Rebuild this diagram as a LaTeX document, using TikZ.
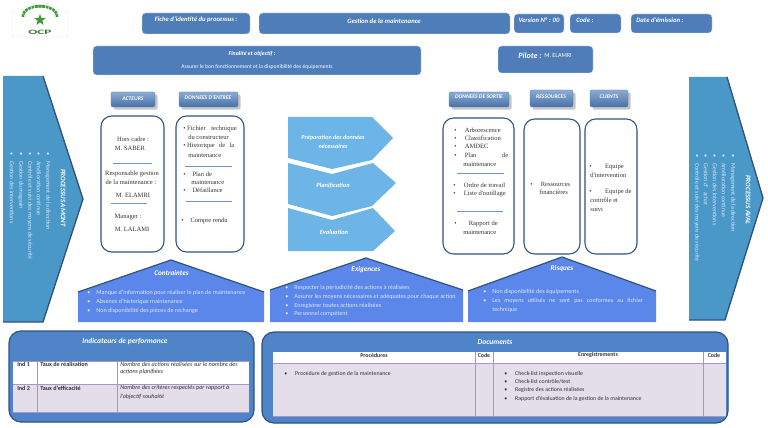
\documentclass[tikz,border=0pt]{standalone}
\usepackage{fontspec}
\setmainfont{Carlito}
\newfontfamily\serifb{Liberation Serif}
\usetikzlibrary{shadows,shapes.geometric}
\definecolor{topblue}{HTML}{4F7DBA}
\definecolor{houseblue}{HTML}{5C87EA}
\definecolor{darkedge}{HTML}{2F5280}
\definecolor{chev}{HTML}{4A98C8}
\definecolor{proc}{HTML}{6DB5E6}
\definecolor{frameblue}{HTML}{4F85C8}
\definecolor{lilac}{HTML}{E3DEEA}
\definecolor{tline}{HTML}{A894C8}
\definecolor{sepblue}{HTML}{6A96CE}
\definecolor{pale}{HTML}{DCE6F6}
\definecolor{ocpgreen}{HTML}{3E9A3A}
\tikzset{
 x=0.75pt,y=-0.75pt,
 topbox/.style={fill=topblue,draw=pale,line width=0.3pt,rounded corners=2.5pt},
 hdr/.style={rounded corners=1.5pt,top color=topblue!65!white,bottom color=topblue!90!black,draw=topblue,line width=0.3pt,drop shadow={shadow xshift=2pt,shadow yshift=-2pt,fill=black!45}},
 card/.style={draw=darkedge,line width=0.8pt,fill=white,rounded corners=8pt},
 housebox/.style={fill=houseblue,draw=none},
 houseedge/.style={draw=darkedge,line width=0.9pt},
 sepline/.style={draw=sepblue,line width=0.7pt},
 chevbox/.style={fill=chev},
 procbox/.style={fill=proc},
 frame/.style={fill=frameblue,draw=darkedge,line width=0.9pt,rounded corners=9pt},
 tabline/.style={draw=tline,line width=0.4pt},
 wt/.style={text=white,inner sep=0pt,font=\fontsize{4.6}{5}\selectfont},
 wtb/.style={text=white,inner sep=0pt,font=\fontsize{5}{6}\selectfont\bfseries\itshape},
 ser/.style={inner sep=0pt,text=black!80,font=\serifb\fontsize{4.9}{5}\selectfont},
 serl/.style={ser,anchor=west},
 sl/.style={inner sep=0pt,anchor=west,text=black!80,font=\fontsize{4.4}{5}\selectfont},
 wl/.style={wt,anchor=west,text=pale},
 rotl/.style={wt,anchor=west,rotate=-90,text=pale,font=\fontsize{4.5}{5}\selectfont},
}
\begin{document}
\begin{tikzpicture}
\useasboundingbox (0,0) rectangle (768,428);
% logo
\draw[draw=black!10,fill=white,rounded corners=2pt,line width=0.3pt] (12,10) rectangle (68,37);
\draw[ocpgreen,line width=2pt,dash pattern=on 2pt off 0.6pt] (23,17) arc[start angle=175,end angle=285,x radius=17,y radius=10];
\draw[ocpgreen,line width=2pt,dash pattern=on 2pt off 0.6pt] (57,17) arc[start angle=5,end angle=-105,x radius=17,y radius=10];
\node[star,star points=5,star point ratio=2.4,fill=ocpgreen,inner sep=0pt,minimum size=9pt] (logostar) at (40,20) {};
\node[inner sep=0pt,text=ocpgreen!80!black,font=\fontsize{5}{5}\selectfont\bfseries,xscale=2] (logotext) at (40,32.5) {OCP};
% top row
\draw[topbox] (142,13) rectangle (250,34);
\draw[topbox] (259,13) rectangle (510,34);
\draw[topbox] (514,14) rectangle (564,33);
\draw[topbox] (570,14) rectangle (621,33);
\draw[topbox] (631,14) rectangle (712,33);
\draw[topbox] (93,46) rectangle (421,75);
\draw[topbox] (498,46) rectangle (593,73);
\node[wtb] (fiche) at (196,20) {Fiche d'identité du processus :};
\node[wtb] (gestion) at (384,21) {Gestion de la maintenance};
\node[wtb] (version) at (539,20) {Version N° : 00};
\node[wtb,anchor=west] (code) at (576,20) {Code :};
\node[wtb,anchor=west] (date) at (636,20) {Date d'émission :};
\node[wtb,font=\fontsize{4.4}{5}\selectfont\bfseries\itshape] (finalite) at (252,54) {Finalité et objectif :};
\node[wt,font=\fontsize{4.2}{5}\selectfont] (assurer) at (257,67) {Assurer le bon fonctionnement et la disponibilité des équipements};
\node[wtb,font=\fontsize{6}{6}\selectfont\bfseries\itshape] (pilote) at (530,56) {Pilote :};
\node[wt,anchor=west,font=\fontsize{4.6}{5}\selectfont] (pilotenm) at (544,56) {M. ELAMRI};
% side chevrons
\fill[chevbox] (3,76) -- (43,76) -- (83,199) -- (43,322) -- (3,322) -- cycle;
\draw[darkedge,line width=1pt] (43,76) -- (83,199) -- (43,322) -- (3,322);
\fill[chevbox] (689,77) -- (727,77) -- (763,198) -- (725,320) -- (689,320) -- cycle;
\draw[darkedge,line width=1pt] (727,77) -- (763,198) -- (725,320) -- (689,320);
\node[rotl,anchor=center,font=\fontsize{5.2}{6}\selectfont\itshape\bfseries,text=white] (amont) at (63,198) {PROCESSUS AMONT};
\node[rotl] (a1) at (48,152) {\textbullet\hspace{3.5pt} Management de la direction};
\node[rotl] (a2) at (39,152) {\textbullet\hspace{3.5pt} Amélioration continue};
\node[rotl] (a3) at (30,152) {\textbullet\hspace{3.5pt} Contrôle et suivi des moyens de sécurité};
\node[rotl] (a4) at (21,152) {\textbullet\hspace{3.5pt} Gestion du magasin};
\node[rotl] (a5) at (12,152) {\textbullet\hspace{3.5pt} Gestion des interventions};
\node[rotl,anchor=center,font=\fontsize{5.2}{6}\selectfont\itshape\bfseries,text=white] (aval) at (748,200) {PROCESSUS AVAL};
\node[rotl] (b1) at (733,154) {\textbullet\hspace{3.5pt} Management de la direction};
\node[rotl] (b2) at (724,154) {\textbullet\hspace{3.5pt} Amélioration continue};
\node[rotl] (b3) at (715,154) {\textbullet\hspace{3.5pt} Gestion des interventions};
\node[rotl] (b4) at (706,154) {\textbullet\hspace{3.5pt} Gestion d'\hspace{2pt} achat};
\node[rotl] (b5) at (697,154) {\textbullet\hspace{3.5pt} Contrôle et suivi des moyens de sécurité};
% headers
\draw[hdr] (111,92) rectangle (155,107);
\draw[hdr] (179,92) rectangle (238,107);
\draw[hdr] (449,92) rectangle (509,107);
\draw[hdr] (530,90) rectangle (573,107);
\draw[hdr] (590,90) rectangle (628,107);
\node[wtb,font=\fontsize{4.2}{5}\selectfont\bfseries\itshape] (hA) at (133,99) {ACTEURS};
\node[wtb,font=\fontsize{4.2}{5}\selectfont\bfseries\itshape] (hB) at (208,98) {DONNEES D'ENTREE};
\node[wtb,font=\fontsize{4.2}{5}\selectfont\bfseries\itshape] (hC) at (479,97) {DONNEES DE SORTIE};
\node[wtb,font=\fontsize{4.2}{5}\selectfont\bfseries\itshape] (hD) at (551,97) {RESSOURCES};
\node[wtb,font=\fontsize{4.2}{5}\selectfont\bfseries\itshape] (hE) at (609,97) {CLIENTS};
% cards
\draw[card] (101,116) rectangle (164,252);
\draw[card] (176,116) rectangle (244,252);
\draw[card] (443,118) rectangle (514,254);
\draw[card] (524,119) rectangle (580,254);
\draw[card] (585,119) rectangle (637,254);
\node[ser] (c1) at (133,139) {Hors cadre :};
\node[ser] (c2) at (130,148) {M. SABER};
\draw[sepline] (113,163) -- (152,163);
\node[ser] (c3) at (132,174) {Responsable gestion};
\node[ser] (c4) at (131,182) {de la maintenance :};
\node[ser] (c5) at (133,195) {M. ELAMRI};
\draw[sepline] (111,203) -- (147,203);
\node[ser] (c6) at (128,217) {Manager :};
\node[ser] (c7) at (132,229) {M. LALAMI};
\node[serl] (d1) at (183,129) {\textbullet\ Fichier\hspace{3pt} technique};
\node[serl] (d2) at (188,137) {du constructeur};
\node[serl] (d3) at (183,146) {\textbullet\ Historique\hspace{2pt} de\hspace{2pt} la};
\node[serl] (d4) at (188,155) {maintenance};
\draw[sepline] (185,166) -- (232,166);
\node[serl] (d5) at (183,174) {\textbullet\hspace{4pt} Plan de};
\node[serl] (d6) at (191,182) {maintenance};
\node[serl] (d7) at (183,190) {\textbullet\hspace{4pt} Défaillance};
\draw[sepline] (186,201) -- (232,201);
\node[serl] (d8) at (181,221) {\textbullet\hspace{4pt} Compte rendu};
\node[serl] (e1) at (454,130) {\textbullet\hspace{5pt} Arborescence};
\node[serl] (e2) at (454,138) {\textbullet\hspace{5pt} Classification};
\node[serl] (e3) at (454,146) {\textbullet\hspace{5pt} AMDEC};
\node[serl] (e4) at (454,155) {\textbullet\hspace{5pt} Plan\hspace{18pt} de};
\node[serl] (e5) at (463,164) {maintenance};
\draw[sepline] (457,173) -- (504,173);
\node[serl] (e6) at (453,185) {\textbullet\hspace{5pt} Ordre de travail};
\node[serl] (e7) at (453,194) {\textbullet\hspace{5pt} Liste d'outillage};
\draw[sepline] (457,211) -- (503,211);
\node[serl] (e8) at (454,224) {\textbullet\hspace{8pt} Rapport de};
\node[serl] (e9) at (463,232) {maintenance};
\node[serl] (f1) at (530,184) {\textbullet\hspace{5pt} Ressources};
\node[serl] (f2) at (539,192) {financières};
\node[serl] (g1) at (589,167) {\textbullet\hspace{9pt} Equipe};
\node[serl] (g2) at (590,175) {d'intervention};
\node[serl] (g3) at (589,192) {\textbullet\hspace{9pt} Equipe de};
\node[serl] (g4) at (590,200) {contrôle et};
\node[serl] (g5) at (590,209) {suivi};
% central process arrows
\fill[procbox] (288,117) -- (372,117) -- (393,138) -- (372,160) -- (332,169) -- (288,158) -- cycle;
\fill[procbox] (288,163) -- (332,174) -- (373,163) -- (396,183) -- (372,206) -- (332,216) -- (288,204) -- cycle;
\fill[procbox] (288,208) -- (332,220) -- (373,208) -- (395,231) -- (373,251) -- (288,251) -- cycle;
\node[wtb,align=center,font=\fontsize{4.6}{7}\selectfont\bfseries\itshape] (p1) at (333,142) {Préparation des données\\nécessaires};
\node[wtb,font=\fontsize{4.8}{6}\selectfont\bfseries\itshape] (p2) at (333,186) {Planification};
\node[wtb,font=\fontsize{4.8}{6}\selectfont\bfseries\itshape] (p3) at (334,232) {Evaluation};
% houses
\fill[housebox] (78,292) -- (171,260) -- (264,292) -- (264,322) -- (78,322) -- cycle;
\draw[houseedge] (78,292) -- (171,260) -- (264,292);
\fill[housebox] (270,290) -- (366,258) -- (463,290) -- (463,322) -- (270,322) -- cycle;
\draw[houseedge] (270,290) -- (366,258) -- (463,290);
\fill[housebox] (468,291) -- (562,257) -- (656,291) -- (656,322) -- (468,322) -- cycle;
\draw[houseedge] (468,291) -- (562,257) -- (656,291);
\node[wtb,font=\fontsize{5.4}{6}\selectfont\bfseries\itshape] (hh1) at (171.5,273) {Contraintes};
\node[wtb,font=\fontsize{5.4}{6}\selectfont\bfseries\itshape] (hh2) at (366,270) {Exigences};
\node[wtb,font=\fontsize{5.4}{6}\selectfont\bfseries\itshape] (hh3) at (562,269) {Risques};
\node[wl] (k1) at (87,293) {\textbullet\hspace{3.5pt} Manque d'information pour réaliser le plan de maintenance};
\node[wl] (k2) at (87,302) {\textbullet\hspace{3.5pt} Absence d'historique maintenance};
\node[wl] (k3) at (87,311) {\textbullet\hspace{3.5pt} Non disponibilité des pièces de rechange};
\node[wl] (l1) at (285,288) {\textbullet\hspace{3.5pt} Respecter la périodicité des actions à réalisées};
\node[wl] (l2) at (285,297) {\textbullet\hspace{3.5pt} Assurer les moyens nécessaires et adéquates pour chaque action};
\node[wl] (l3) at (285,306) {\textbullet\hspace{3.5pt} Enregistrer toutes actions réalisées};
\node[wl] (l4) at (285,314) {\textbullet\hspace{3.5pt} Personnel compétent};
\node[wl] (m1) at (483,292) {\textbullet\hspace{3.5pt} Non disponibilité des équipements};
\node[wl] (m2) at (483,301) {\textbullet\hspace{3.5pt} \makebox[113pt][s]{Les moyens utilisés ne sont pas conformes au fichier}};
\node[wl] (m3) at (492,310) {technique};
% indicators frame
\draw[frame] (9,331) rectangle (254,422);
\fill[white] (13,361) rectangle (249,384);
\fill[lilac] (13,384) rectangle (249,412);
\draw[tabline] (13,361) -- (249,361) (13,384) -- (249,384) (13,412) -- (249,412) (37,361) -- (37,412) (117,361) -- (117,412);
\node[wtb,font=\fontsize{5.6}{6}\selectfont\bfseries\itshape] (ind) at (125,341) {Indicateurs de performance};
\node[sl,font=\fontsize{4.6}{5}\selectfont\bfseries] (i1) at (17,364) {Ind 1};
\node[sl,font=\fontsize{4.6}{5}\selectfont\bfseries] (i2) at (40,364) {Taux de réalisation};
\node[sl,font=\fontsize{4.6}{5}\selectfont\itshape] (i3) at (120,364) {Nombre des actions réalisées sur le nombre des};
\node[sl,font=\fontsize{4.6}{5}\selectfont\itshape] (i4) at (120,372) {actions planifiées};
\node[sl,font=\fontsize{4.6}{5}\selectfont\bfseries] (j1) at (17,388) {Ind 2};
\node[sl,font=\fontsize{4.6}{5}\selectfont\bfseries] (j2) at (40,388) {Taux d'efficacité};
\node[sl,font=\fontsize{4.6}{5}\selectfont\itshape] (j3) at (120,388) {Nombre des critères respectés par rapport à};
\node[sl,font=\fontsize{4.6}{5}\selectfont\itshape] (j4) at (120,397) {l'objectif souhaité};
% documents frame
\draw[frame] (262,332) rectangle (728,423);
\fill[white] (273,352) rectangle (726,363);
\fill[lilac] (273,363) rectangle (726,416);
\draw[tabline] (273,363) -- (726,363) (273,416) -- (726,416) (475,352) -- (475,416) (493,352) -- (493,416) (703,352) -- (703,416);
\node[wtb,font=\fontsize{5.6}{6}\selectfont\bfseries\itshape] (docs) at (495,342) {Documents};
\node[sl,anchor=center,font=\fontsize{4.4}{5}\selectfont\bfseries] (n1) at (374,355) {Procédures};
\node[sl,anchor=center,font=\fontsize{4.4}{5}\selectfont\bfseries] (n2) at (484,355) {Code};
\node[sl,anchor=center,font=\fontsize{4.4}{5}\selectfont\bfseries] (n3) at (598,355) {Enregistrements};
\node[sl,anchor=center,font=\fontsize{4.4}{5}\selectfont\bfseries] (n4) at (714,355) {Code};
\node[sl] (o1) at (284,374) {\textbullet\hspace{5pt} Procédure de gestion de la maintenance};
\node[sl] (q1) at (504,374) {\textbullet\hspace{5pt} Check-list inspection visuelle};
\node[sl] (q2) at (504,382) {\textbullet\hspace{5pt} Check-list contrôle/test};
\node[sl] (q3) at (504,390) {\textbullet\hspace{5pt} Registre des actions réalisées};
\node[sl] (q4) at (504,399) {\textbullet\hspace{5pt} Rapport d'évaluation de la gestion de la maintenance};
\end{tikzpicture}
\end{document}
